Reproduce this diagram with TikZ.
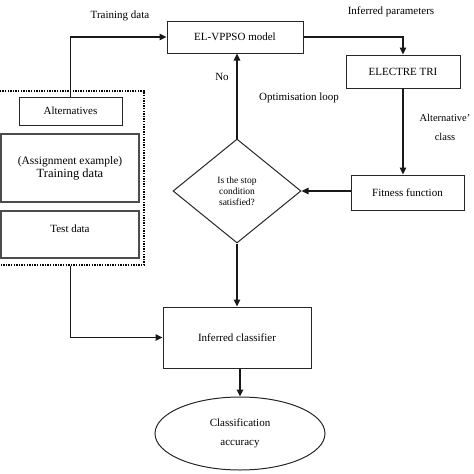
\documentclass[tikz,border=0pt]{standalone}
\usepackage{fontspec}
\setmainfont{Liberation Serif}
\usetikzlibrary{arrows.meta,shapes.geometric}
\begin{document}
\begin{tikzpicture}[x=1pt,y=-1pt,
  every node/.style={font=\fontsize{11}{13}\selectfont, inner sep=0pt, align=center},
  box/.style={draw=black!85, line width=1pt, rectangle},
  lbl/.style={},
  conn/.style={draw=black!90, line width=1.1pt, -{Triangle[length=7pt,width=6.5pt]}},
  frame/.style={draw=black, line width=2pt, dash pattern=on 1.4pt off 1.2pt, rectangle}
]
\useasboundingbox (0,0) rectangle (474,474);
% main boxes
\node[box, minimum width=136pt, minimum height=32pt] (el) at (235,37) {EL-VPPSO model};
\node[box, minimum width=114pt, minimum height=33pt] (electre) at (403,71.5) {ELECTRE TRI};
\node[box, minimum width=113pt, minimum height=35pt] (fit) at (407.5,192.5) {Fitness function};
\node[draw=black!85, line width=1pt, diamond, minimum width=128pt, minimum height=104pt,
      font=\fontsize{9.5}{11}\selectfont] (dia) at (237,191) {Is the stop\\condition\\satisfied?};
\node[box, minimum width=148pt, minimum height=61pt] (inf) at (237,337.5) {Inferred classifier};
\node[draw=black!85, line width=1pt, ellipse, minimum width=170pt, minimum height=73pt,
      font=\fontsize{11}{19}\selectfont] (acc) at (240,433.5) {Classification\\accuracy};
% data frame
\node[frame, minimum width=146pt, minimum height=174pt] (dframe) at (71,178) {};
\node[box, minimum width=103pt, minimum height=28pt] (alt) at (70.5,111) {Alternatives};
\node[box, minimum width=138pt, minimum height=68pt, draw=black!70, line width=1.3pt,
      font=\fontsize{11.5}{13}\selectfont] (train) at (70,168)
      {(Assignment example)\\{\fontsize{12.5}{13}\selectfont Training data}};
\node[box, minimum width=138pt, minimum height=47pt, draw=black!70, line width=1.3pt] (test) at (70,234.5) {};
\node (testlbl) at (70,229) {Test data};
% labels
\node (l1) at (120,16) {Training data};
\node (l2) at (391,12) {Inferred parameters};
\node (l3) at (222,77) {No};
\node (l4) at (299,98) {Optimisation loop};
\node[font=\fontsize{10.5}{19}\selectfont] (l5) at (445,127) {Alternative'\\class};
% connectors
\draw[conn] (alt.north) |- (el.west);
\draw[conn] (el.east) -| (electre.north);
\draw[conn] (electre.south) -- (electre.south |- fit.north);
\draw[conn] (fit.west |- dia.east) -- (dia.east);
\draw[conn] (dia.north) -- (dia.north |- el.south);
\draw[conn] (dia.south) -- (dia.south |- inf.north);
\draw[conn] (dframe.south -| alt.north) |- (inf.west);
\draw[conn] (inf.south -| acc.north) -- (acc.north);
\end{tikzpicture}
\end{document}
